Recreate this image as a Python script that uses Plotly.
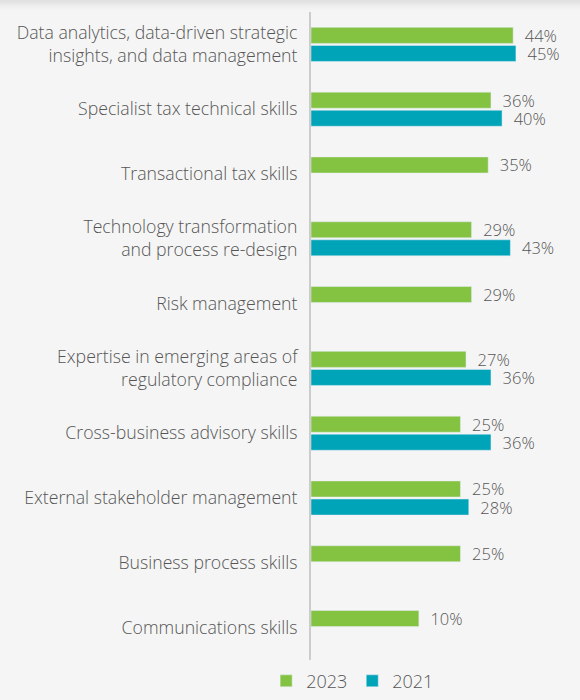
import plotly.graph_objects as go

categories = [
    "Data analytics, data-driven strategic<br>insights, and data management",
    "Specialist tax technical skills",
    "Transactional tax skills",
    "Technology transformation<br>and process re-design",
    "Risk management",
    "Expertise in emerging areas of<br>regulatory compliance",
    "Cross-business advisory skills",
    "External stakeholder management",
    "Business process skills",
    "Communications skills",
]
values_2023 = [44, 36, 35, 29, 29, 27, 25, 25, 25, 10]
values_2021 = [45, 40, None, 43, None, 36, 36, 28, None, None]

GREEN = "#84c341"
TEAL = "#00a4b8"
BG = "#f5f5f5"
TXT = "#555555"

# bars in the source do not start at zero, they start at the axis line (~ -28.9)
BASE = -28.9


def lengths(vals):
    return [None if v is None else v - BASE for v in vals]


def labels(vals):
    return ["" if v is None else "\u00a0\u00a0%d%%" % v for v in vals]


fig = go.Figure()
for name, vals, col in [("2023", values_2023, GREEN), ("2021", values_2021, TEAL)]:
    fig.add_trace(go.Bar(y=categories, x=lengths(vals), base=BASE, orientation="h",
                         name=name, marker_color=col, text=labels(vals),
                         textposition="outside", cliponaxis=False, constraintext="none",
                         textfont=dict(size=16.5, color=TXT, family="Open Sans", weight=300)))

# soft shadow band at the top of the picture
H = 648
top = 1 + 12 / H
for i, a in enumerate([0.08, 0.06, 0.04, 0.025, 0.012]):
    fig.add_shape(type="rect", xref="paper", yref="paper",
                  x0=-311 / 259, x1=1 + 10 / 259,
                  y0=top - (i + 1) * 2 / H, y1=top - i * 2 / H,
                  fillcolor="rgba(0,0,0,%s)" % a, line_width=0, layer="below")

fig.update_layout(
    width=580, height=700,
    margin=dict(l=311, r=10, t=12, b=40, autoexpand=False),
    paper_bgcolor=BG, plot_bgcolor=BG,
    barmode="group", bargap=0.443, bargroupgap=0.111,
    font=dict(family="Open Sans", color=TXT, size=17),
    showlegend=True,
    legend=dict(orientation="h", xref="container", yref="container",
                x=0.608, y=0.027, xanchor="center", yanchor="middle",
                font=dict(size=18, color=TXT, weight=300), traceorder="normal",
                itemwidth=30, bgcolor="rgba(0,0,0,0)"),
    xaxis=dict(range=[BASE, 64.5], visible=False, fixedrange=True),
    yaxis=dict(autorange="reversed", showline=True, linecolor="#cccccc", linewidth=2,
               showgrid=False, ticks="", ticklabelstandoff=8, fixedrange=True,
               tickfont=dict(size=17.7, color=TXT, family="Open Sans", weight=300)),
)

fig.write_html("out.html", config={"displayModeBar": False},
               post_script="document.body.style.margin='0';")
